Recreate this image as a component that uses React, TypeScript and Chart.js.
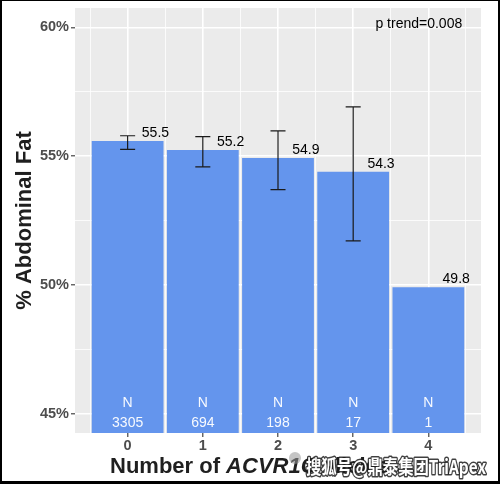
import { useEffect, useRef } from 'react';
import { Chart, registerables } from 'chart.js';

Chart.register(...registerables);

// ---- data ----
const categories = [0, 1, 2, 3, 4];
const meanFat = [55.59, 55.24, 54.93, 54.39, 49.91];
const valueLabels = ['55.5', '55.2', '54.9', '54.3', '49.8'];
const upperCI: (number | null)[] = [55.79, 55.76, 55.98, 56.91, null];
const lowerCI: (number | null)[] = [55.26, 54.58, 53.7, 51.71, null];
const counts = ['3305', '694', '198', '17', '1'];
const yMajorTicks = [45, 50, 55, 60];
const yMinorTicks = [47.5, 52.5, 57.5];
const xMinorTicks = [-0.5, 0.5, 1.5, 2.5, 3.5, 4.5];
const pTrendText = 'p trend=0.008';
const yTitle = '% Abdominal Fat';
const xTitleParts = ['Number of ', 'ACVR1C', ' alleles'];
const watermark = '搜狐号@鼎泰集团TriApex';

const FONT = "'Liberation Sans', Arial, Helvetica, sans-serif";
const Y_MIN = 44.25;
const Y_MAX = 60.75;
const X_MIN = -0.7;
const X_MAX = 4.7;
// bar width as a fraction of one category unit (Chart.js ruler uses the 0.5-unit tick spacing)
const BAR_FRACTION = 0.955;

const decor = {
  id: 'decor',
  beforeDraw(chart: any) {
    const { ctx, chartArea: a, width, height } = chart;
    ctx.save();
    ctx.fillStyle = '#ffffff';
    ctx.fillRect(0, 0, width, height);
    ctx.fillStyle = '#EBEBEB';
    ctx.fillRect(a.left, a.top, a.right - a.left, a.bottom - a.top);
    ctx.restore();
  },
  afterDatasetsDraw(chart: any) {
    const { ctx } = chart;
    const xs = chart.scales.x;
    const ys = chart.scales.y;
    ctx.save();
    // error bars
    ctx.strokeStyle = '#1a1a1a';
    ctx.lineWidth = 1.2;
    categories.forEach((c, i) => {
      const hi = upperCI[i];
      const lo = lowerCI[i];
      if (hi == null || lo == null) return;
      const px = xs.getPixelForValue(c);
      const pl = xs.getPixelForValue(c - 0.1);
      const pr = xs.getPixelForValue(c + 0.1);
      const pyH = ys.getPixelForValue(hi);
      const pyL = ys.getPixelForValue(lo);
      ctx.beginPath();
      ctx.moveTo(px, pyH);
      ctx.lineTo(px, pyL);
      ctx.moveTo(pl, pyH);
      ctx.lineTo(pr, pyH);
      ctx.moveTo(pl, pyL);
      ctx.lineTo(pr, pyL);
      ctx.stroke();
    });
    // value labels
    ctx.font = `14px ${FONT}`;
    ctx.fillStyle = '#000000';
    ctx.textAlign = 'center';
    ctx.textBaseline = 'middle';
    categories.forEach((c, i) => {
      ctx.fillText(valueLabels[i], xs.getPixelForValue(c + 0.37), ys.getPixelForValue(meanFat[i] + 0.31));
    });
    // N labels
    ctx.fillStyle = 'rgba(255,255,255,0.95)';
    categories.forEach((c, i) => {
      const px = xs.getPixelForValue(c);
      ctx.fillText('N', px, ys.getPixelForValue(45.42));
      ctx.fillText(counts[i], px, ys.getPixelForValue(44.62));
    });
    // p trend
    ctx.fillStyle = '#000000';
    ctx.textAlign = 'right';
    ctx.fillText(pTrendText, xs.getPixelForValue(4.45), ys.getPixelForValue(60.14));
    ctx.restore();
  },
  afterDraw(chart: any) {
    const { ctx, chartArea: a, width, height } = chart;
    ctx.save();
    // y title
    ctx.font = `bold 22px ${FONT}`;
    ctx.fillStyle = '#1f1f1f';
    ctx.textAlign = 'center';
    ctx.textBaseline = 'middle';
    ctx.translate(25, (a.top + a.bottom) / 2);
    ctx.rotate(-Math.PI / 2);
    ctx.fillText(yTitle, 0, 0);
    ctx.setTransform(chart.currentDevicePixelRatio, 0, 0, chart.currentDevicePixelRatio, 0, 0);
    // x title (mixed style)
    ctx.textAlign = 'left';
    ctx.textBaseline = 'alphabetic';
    let tx = a.left + 35;
    const ty = 473;
    const fonts = [`bold 22px ${FONT}`, `italic bold 22px ${FONT}`, `bold 22px ${FONT}`];
    xTitleParts.forEach((p, i) => {
      ctx.font = fonts[i];
      ctx.fillText(p, tx, ty);
      tx += ctx.measureText(p).width;
    });
    // watermark
    ctx.fillStyle = 'rgba(150,150,150,0.55)';
    ctx.beginPath();
    ctx.arc(295, 458, 6, 0, Math.PI * 2);
    ctx.fill();
    ctx.font = `bold 19px 'Noto Sans CJK SC', sans-serif`;
    ctx.lineJoin = 'round';
    ctx.strokeStyle = 'rgba(30,30,30,0.85)';
    ctx.lineWidth = 3;
    ctx.strokeText(watermark, 306, 474, 180);
    ctx.fillStyle = '#ffffff';
    ctx.fillText(watermark, 306, 474, 180);
    // border
    ctx.fillStyle = '#000000';
    ctx.fillRect(0, 0, 2, height);
    ctx.fillRect(0, 0, width, 1);
    ctx.fillRect(width - 2, 0, 2, height);
    ctx.fillRect(0, height - 3, width, 3);
    ctx.restore();
  },
};

export default function App() {
  const ref = useRef<HTMLCanvasElement | null>(null);
  useEffect(() => {
    document.body.style.margin = '0';
    if (!ref.current) return;
    const isMajorX = (v: number) => Number.isInteger(v);
    const isMajorY = (v: number) => yMajorTicks.includes(v);
    const chart = new Chart(ref.current, {
      type: 'bar',
      data: {
        datasets: [
          {
            data: categories.map((c, i) => ({ x: c, y: meanFat[i] })),
            backgroundColor: '#6495ED',
            borderWidth: 0,
            barPercentage: BAR_FRACTION / 0.5,
            categoryPercentage: 1,
            base: Y_MIN,
          } as any,
        ],
      },
      options: {
        animation: false,
        responsive: true,
        maintainAspectRatio: false,
        layout: { padding: { left: 0, top: 8, right: 19, bottom: 0 } },
        plugins: { legend: { display: false }, tooltip: { enabled: false }, title: { display: false } },
        scales: {
          x: {
            type: 'linear',
            offset: false,
            min: X_MIN,
            max: X_MAX,
            afterBuildTicks: (s: any) => {
              s.ticks = [...xMinorTicks, ...categories].sort((p, q) => p - q).map((v) => ({ value: v }));
            },
            afterFit: (s: any) => {
              s.height = 51;
              s.paddingLeft = 0;
              s.paddingRight = 0;
            },
            ticks: {
              autoSkip: false,
              maxRotation: 0,
              padding: 0,
              color: '#4D4D4D',
              font: { family: FONT, size: 14.5, weight: 'bold' },
              callback: (v: any) => (isMajorX(Number(v)) ? String(v) : ''),
            },
            grid: {
              offset: false,
              color: '#ffffff',
              lineWidth: (c: any) => (c.tick && isMajorX(c.tick.value) ? 1.6 : 0.8),
              tickLength: 4,
              tickWidth: 1.1,
              tickColor: (c: any) => (c.tick && isMajorX(c.tick.value) ? '#333333' : 'rgba(0,0,0,0)'),
            },
            border: { display: false },
          } as any,
          y: {
            type: 'linear',
            min: Y_MIN,
            max: Y_MAX,
            afterBuildTicks: (s: any) => {
              s.ticks = [...yMajorTicks, ...yMinorTicks].sort((p, q) => p - q).map((v) => ({ value: v }));
            },
            afterFit: (s: any) => {
              s.width = 75;
              s.paddingTop = 0;
              s.paddingBottom = 0;
            },
            ticks: {
              autoSkip: false,
              padding: 2,
              color: '#4D4D4D',
              font: { family: FONT, size: 14.5, weight: 'bold' },
              callback: (v: any) => (isMajorY(Number(v)) ? `${v}%` : ''),
            },
            grid: {
              color: '#ffffff',
              lineWidth: (c: any) => (c.tick && isMajorY(c.tick.value) ? 1.6 : 0.8),
              tickLength: 4,
              tickWidth: 1.1,
              tickColor: (c: any) => (c.tick && isMajorY(c.tick.value) ? '#333333' : 'rgba(0,0,0,0)'),
            },
            border: { display: false },
          } as any,
        },
      },
      plugins: [decor],
    });
    return () => chart.destroy();
  }, []);
  return (
    <div style={{ position: 'relative', width: 500, height: 484 }}>
      <canvas ref={ref} />
    </div>
  );
}
